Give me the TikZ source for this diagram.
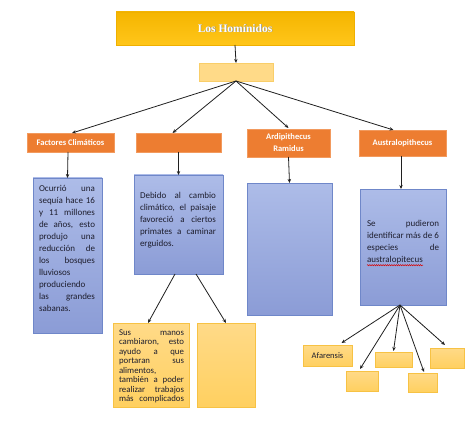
\documentclass[tikz,border=0pt]{standalone}
\usepackage{fontspec}
\setmainfont{Carlito}
\newfontfamily\titlefont{Liberation Serif}
\usetikzlibrary{arrows.meta,decorations.pathmorphing,shadows}
\definecolor{orangebox}{HTML}{ED7D31}
\definecolor{orangeedge}{HTML}{F29A5E}
\definecolor{bluetop}{HTML}{ADBCE8}
\definecolor{bluebot}{HTML}{8B9CD6}
\definecolor{blueedge}{HTML}{6F87C9}
\definecolor{yeltop}{HTML}{FFDA88}
\definecolor{yelbot}{HTML}{FFD060}
\definecolor{yeledge}{HTML}{F7C244}
\definecolor{goldtop}{HTML}{F5B500}
\definecolor{goldbot}{HTML}{FFC61A}
\definecolor{goldedge}{HTML}{EFB000}
\definecolor{textdark}{HTML}{1E1E2E}
\definecolor{linedark}{HTML}{202020}
\newlength{\jw}
\newcommand{\jl}[1]{\leavevmode\hbox to \jw{\spaceskip=0.22em plus 3em minus 0.05em\relax #1}}
\begin{document}
\begin{tikzpicture}[x=1pt,y=-1pt,
  every node/.style={inner sep=0pt,outer sep=0pt},
  titlebox/.style={draw=goldedge,line width=0.6pt,top color=goldtop,bottom color=goldbot,
    drop shadow={opacity=0.25,shadow xshift=1pt,shadow yshift=-1.5pt}},
  subbox/.style={draw=yeledge!80,line width=0.6pt,fill=yeltop},
  orangebox/.style={draw=orangeedge,line width=0.6pt,fill=orangebox,text=white,
    font=\fontsize{8.5}{12}\selectfont\bfseries,align=center},
  bluebox/.style={draw=blueedge,line width=0.7pt,top color=bluetop,bottom color=bluebot},
  yelbox/.style={draw=yeledge,line width=0.6pt,top color=yeltop,bottom color=yelbot,
    text=textdark,font=\fontsize{8.5}{12}\selectfont},
  bodytext/.style={anchor=north west,text=textdark,align=left,
    font=\fontsize{9}{12}\selectfont},
  link/.style={draw=linedark,line width=0.8pt,-{Stealth[length=4pt,width=3.4pt]}},
]
\useasboundingbox (0,0) rectangle (474,441);
\fill[white] (0,0) rectangle (474,441);

% level 0 and 1
\node[titlebox,minimum width=238,minimum height=33] (title) at (235,28.5)
  {\titlefont\bfseries\fontsize{11.5}{13}\selectfont
   \rlap{\hspace{0.7pt}\raisebox{-0.7pt}{\color{black!45}Los Homínidos}}\textcolor{white}{Los Homínidos}};
\node[subbox,minimum width=74,minimum height=18] (sub) at (236,72) {};

% level 2
\node[orangebox,minimum width=87,minimum height=19] (fc) at (70.5,142.5) {Factores Climáticos};
\node[orangebox,minimum width=85,minimum height=19] (eo) at (178.5,142.5) {};
\node[orangebox,minimum width=83,minimum height=28] (ar) at (288.5,143) {Ardipithecus\\Ramidus};
\node[orangebox,minimum width=87,minimum height=26] (au) at (402.5,143) {Australopithecus};

% level 3
\node[bluebox,minimum width=69,minimum height=155] (b1) at (67.5,255.5) {};
\node[bluebox,minimum width=89,minimum height=99] (b2) at (178.5,224.5) {};
\node[bluebox,minimum width=85,minimum height=132] (b3) at (289.5,249) {};
\node[bluebox,minimum width=86,minimum height=116] (b4) at (403,247) {};

\node[bodytext,text width=56] (b1t) at (39,185.5) {\setlength{\jw}{56pt}%
  \jl{Ocurrió una}\\
  \jl{sequía hace 16}\\
  \jl{y 11 millones}\\
  \jl{de años, esto}\\
  \jl{produjo una}\\
  \jl{reducción de}\\
  \jl{los bosques}\\
  lluviosos\\
  produciendo\\
  \jl{las grandes}\\
  sabanas.};
\node[bodytext,text width=76] (b2t) at (140,192.5) {\setlength{\jw}{76pt}%
  \jl{Debido al cambio}\\
  \jl{climático, el paisaje}\\
  \jl{favoreció a ciertos}\\
  \jl{primates a caminar}\\
  erguidos.};
\node[bodytext,text width=72] (b4t) at (367,220.5) {\setlength{\jw}{72pt}%
  \jl{Se pudieron}\\
  \jl{identificar más de 6}\\
  \jl{especies de}\\
  australopitecus};
\draw[red!85!black,line width=0.5pt,decorate,decoration={snake,amplitude=0.6pt,segment length=2.2pt}]
  ([yshift=-1pt]b4t.south west) -- ++(56,0);

% level 4
\node[yelbox,minimum width=76,minimum height=84] (y1) at (151,365) {};
\node[yelbox,minimum width=58,minimum height=84] (y2) at (226,365) {};
\node[bodytext,text width=65,font=\fontsize{8.8}{9.5}\selectfont] (y1t) at (119,329.5) {\setlength{\jw}{65pt}%
  \jl{Sus manos}\\
  \jl{cambiaron, esto}\\
  \jl{ayudo a que}\\
  \jl{portaran sus}\\
  alimentos,\\
  \jl{también a poder}\\
  \jl{realizar trabajos}\\
  \jl{más complicados}};

\node[yelbox,minimum width=49,minimum height=21] (s1) at (327.5,355.5) {Afarensis};
\node[yelbox,minimum width=32,minimum height=20] (s2) at (362,381) {};
\node[yelbox,minimum width=37,minimum height=15] (s3) at (393.5,359.5) {};
\node[yelbox,minimum width=29,minimum height=19] (s4) at (422.5,382.5) {};
\node[yelbox,minimum width=34,minimum height=20] (s5) at (447,358) {};

% connectors
\draw[link] (title.south) -- (sub.north);
\draw[link] (sub.south) -- ([xshift=1.5pt]fc.north);
\draw[link] (sub.south) -- ([xshift=-6pt]eo.north);
\draw[link] (sub.south) -- ([yshift=1pt]ar.north);
\draw[link] (sub.south) -- ([xshift=-9pt]au.north);

\draw[link] ([xshift=-2.5pt]fc.south) -- (b1.north);
\draw[link] (eo.south) -- (b2.north);
\draw[link] (ar.south) -- (b3.north);
\draw[link] ([xshift=-1.5pt]au.south) -- ([xshift=-2pt]b4.north);

\draw[link] ([xshift=-3.5pt]b2.south) -- ([xshift=-3pt]y1.north);
\draw[link] ([xshift=17.5pt]b2.south) -- (y2.north);

\draw[link] ([xshift=-3pt]b4.south) -- ([xshift=14pt,yshift=2pt]s1.north);
\draw[link] ([xshift=-3pt]b4.south) -- ([xshift=-2pt,yshift=2pt]s2.north);
\draw[link] ([xshift=-3pt]b4.south) -- ([yshift=1pt]s3.north);
\draw[link] ([xshift=-3pt]b4.south) -- ([xshift=1.5pt,yshift=1pt]s4.north);
\draw[link] ([xshift=-3pt]b4.south) -- ([xshift=-2pt,yshift=3pt]s5.north);
\end{tikzpicture}
\end{document}
